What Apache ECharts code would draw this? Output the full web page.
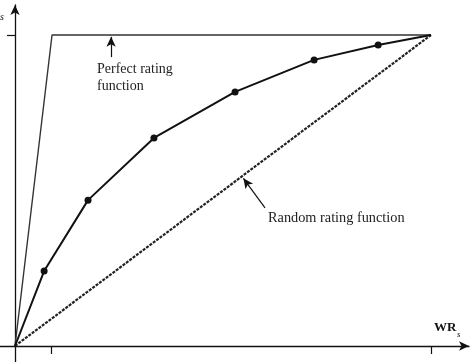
<!DOCTYPE html>
<html>
<head>
<meta charset="utf-8">
<script src="https://cdn.jsdelivr.net/npm/echarts@6/dist/echarts.min.js"></script>
<style>html,body{margin:0;padding:0;background:#fff}#c{width:474px;height:362px}</style>
</head>
<body>
<div id="c"></div>
<script>
// ---- data ----
const curveX = [0, 0.070, 0.1755, 0.334, 0.529, 0.719, 0.873, 1];
const curveY = [0, 0.241, 0.469, 0.669, 0.817, 0.920, 0.968, 1];
const perfectX = [0, 0.089, 1];
const perfectY = [0, 1, 1];
const randomX = [0, 1];
const randomY = [0, 1];
const xTickValues = [0.087, 1];
const yTickValues = [1];
const perfectArrow = [[0.231, 0.929], [0.231, 0.994]];
const randomArrow = [[0.601, 0.444], [0.549, 0.539]];

// ---- layout ----
const W = 474, H = 362;
const x0px = 15, x1px = 431, y0px = 346, y1px = 35;
const gridLeft = 0, gridRight = 5, gridTop = 5, gridBottom = 0;
const sx = (x1px - x0px), sy = (y0px - y1px);
const xMin = -(x0px - gridLeft) / sx, xMax = (W - gridRight - x0px) / sx;
const yMax = (y0px - gridTop) / sy, yMin = -(H - gridBottom - y0px) / sy;

const zip = (a, b) => a.map((v, i) => [v, b[i]]);
const serif = '"Liberation Serif", "DejaVu Serif", serif';

const chart = echarts.init(document.getElementById('c'), null, {renderer: 'canvas'});
chart.setOption({
  animation: false,
  backgroundColor: '#fff',
  grid: {left: gridLeft, right: gridRight, top: gridTop, bottom: gridBottom},
  xAxis: {
    type: 'value', min: xMin, max: xMax,
    axisLine: {onZero: true, symbol: ['none', 'arrow'], symbolSize: [7, 10], lineStyle: {color: '#111', width: 1.3}},
    axisTick: {show: true, customValues: xTickValues, length: 8, lineStyle: {color: '#111', width: 1.2}},
    axisLabel: {show: false}, splitLine: {show: false}
  },
  yAxis: {
    type: 'value', min: yMin, max: yMax,
    axisLine: {onZero: true, symbol: ['none', 'arrow'], symbolSize: [7, 10], lineStyle: {color: '#111', width: 1.3}},
    axisTick: {show: true, customValues: yTickValues, length: 8, lineStyle: {color: '#111', width: 1.2}},
    axisLabel: {show: false}, splitLine: {show: false}
  },
  series: [
    {
      type: 'line', data: zip(perfectX, perfectY), showSymbol: false, silent: true,
      lineStyle: {color: '#333', width: 1.4}
    },
    {
      type: 'line', data: zip(randomX, randomY), showSymbol: false, silent: true,
      lineStyle: {color: '#222', width: 2.2, type: [3, 1.2]},
      markLine: {
        silent: true, symbol: ['none', 'arrow'], symbolSize: [7, 10],
        label: {show: false},
        lineStyle: {color: '#111', width: 1.2, type: 'solid'},
        data: [
          [{coord: perfectArrow[0]}, {coord: perfectArrow[1]}],
          [{coord: randomArrow[0]}, {coord: randomArrow[1]}]
        ]
      }
    },
    {
      type: 'line', silent: true,
      data: zip(curveX, curveY).map((p, i, a) => ({value: p, symbol: (i === 0 || i === a.length - 1) ? 'none' : 'circle'})),
      symbolSize: 7, showSymbol: true,
      itemStyle: {color: '#111'},
      lineStyle: {color: '#111', width: 2}
    }
  ],
  graphic: [
    {type: 'text', left: 97, top: 61, silent: true,
     style: {text: 'Perfect rating\nfunction', font: '14px ' + serif, fill: '#222', lineHeight: 17}},
    {type: 'text', left: 268, top: 211, silent: true,
     style: {text: 'Random rating function', font: '14.3px ' + serif, fill: '#222'}},
    {type: 'text', left: 434, top: 321, silent: true,
     style: {text: 'WR', font: 'bold 13px ' + serif, fill: '#111'}},
    {type: 'text', left: 457, top: 330, silent: true,
     style: {text: 's', font: 'italic 9px ' + serif, fill: '#111'}},
    {type: 'text', left: 0, top: 12, silent: true,
     style: {text: 's', font: 'italic 10px ' + serif, fill: '#111'}}
  ]
});
</script>
</body>
</html>
